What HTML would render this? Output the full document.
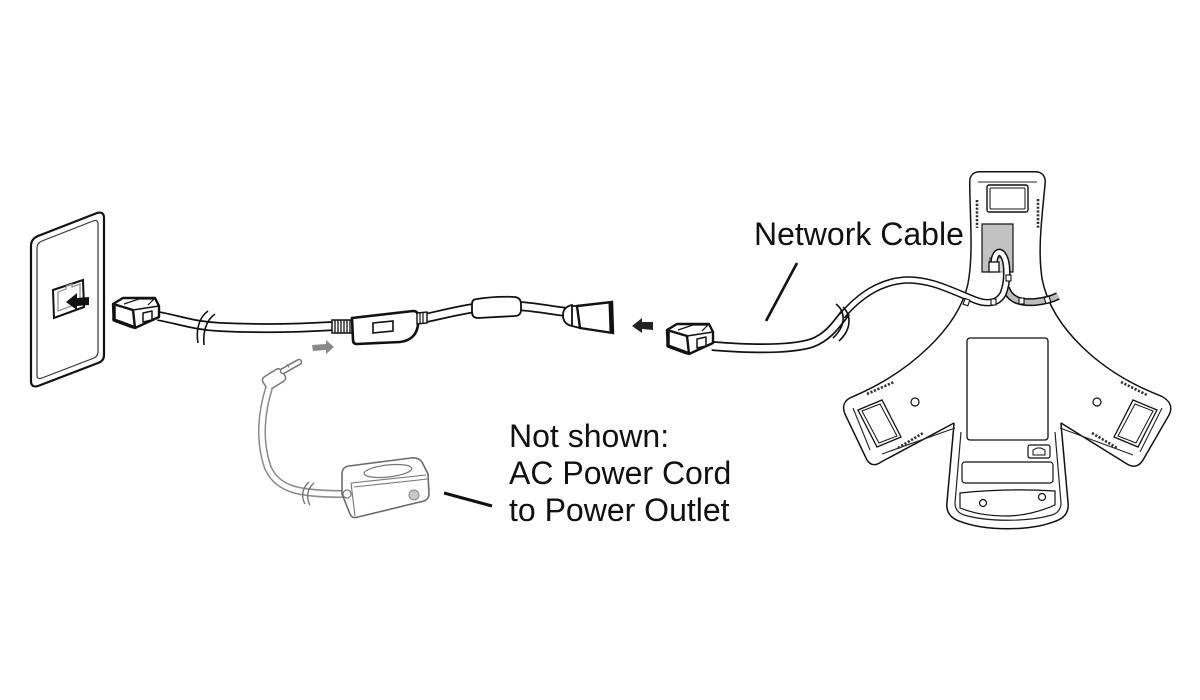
<!DOCTYPE html>
<html><head><meta charset="utf-8"><style>
html,body{margin:0;padding:0;background:#fff;}
svg{display:block;}
text{font-family:"Liberation Sans",Arial,sans-serif;fill:#111;}
</style></head><body>
<svg width="1200" height="700" viewBox="0 0 1200 700" xmlns="http://www.w3.org/2000/svg">
<rect width="1200" height="700" fill="#fff"/>

<!-- Wall plate -->
<path d="M31,246 Q31,239 38,236 L97,213 Q104,211 104,218 L104,355 Q104,361 98,363 L38,386 Q31,388 31,381 Z" fill="#fff" stroke="#111" stroke-width="2.2"/>
<path d="M37,248 Q37,243 42,241 L93,221 Q98,219 98,224 L98,352 Q98,356 94,358 L42,378 Q37,380 37,375 Z" fill="none" stroke="#333" stroke-width="1.2"/>
<!-- jack -->
<path d="M53,290 L83,280 L84,307 L54,318 Z" fill="#fff" stroke="#111" stroke-width="2"/>
<path d="M58,292 L66,289 L66,286 L72,284 L72,287 L80,284 L80,303 L58,311 Z" fill="none" stroke="#888" stroke-width="1.2"/>
<path d="M89,297 L77,298 L77,293 L66,302 L77,310 L77,306 L89,305 Z" fill="#111"/>

<!-- main left cable -->
<g fill="none" stroke-linecap="butt">
<path d="M158,316 C180,320 195,326 220,327 C260,329 300,328 334,326" stroke="#111" stroke-width="10"/>
<path d="M158,316 C180,320 195,326 220,327 C260,329 300,328 334,326" stroke="#fff" stroke-width="6.5"/>
<path d="M426,318 C440,315 455,311 474,308" stroke="#111" stroke-width="10"/>
<path d="M426,318 C440,315 455,311 474,308" stroke="#fff" stroke-width="6.5"/>
<path d="M519,306 C535,307 550,310 566,312" stroke="#111" stroke-width="10"/>
<path d="M519,306 C535,307 550,310 566,312" stroke="#fff" stroke-width="6.5"/>
</g>
<!-- break symbol left -->
<path d="M208,311 C198,318 196,332 198,343" fill="none" stroke="#111" stroke-width="1.6"/>
<path d="M215,314 C205,321 203,334 204,345" fill="none" stroke="#111" stroke-width="1.6"/>

<!-- left RJ45 plug -->
<g transform="translate(112,296)" fill="none" stroke="#111" stroke-linejoin="round">
<path d="M1,8 L11,2 L43,2 L47,10 L47,21 L23,32 L2,24 Z" fill="#fff" stroke-width="2.4"/>
<path d="M1,8 L21,14 L23,32" stroke-width="2.4"/>
<path d="M2,10 L2,24 L21,31" stroke-width="3.5"/>
<path d="M21,14 L47,10" stroke-width="1.4"/>
<path d="M12,8 L27,3 L42,3 L36,9" stroke-width="1.2"/>
<path d="M31,17 L40,15 L40,24 L31,26 Z" stroke-width="1.5"/>
</g>

<!-- ribs left -->
<rect x="332" y="320" width="20" height="13" fill="#fff" stroke="#111" stroke-width="1.5"/>
<path d="M335,320 V333 M338,320 V333 M341,320 V333 M344,320 V333 M347,320 V333 M350,320 V333" stroke="#111" stroke-width="1.3"/>
<!-- inline box -->
<path d="M352,318 L413,311 Q418,311 418,316 L418,325 Q416,340 400,342 L357,344 Q353,344 353,340 Z" fill="#fff" stroke="#111" stroke-width="2.6"/>
<path d="M373,323 L393,321 L393,331 L373,333 Z" fill="none" stroke="#111" stroke-width="1.6"/>
<!-- ribs right -->
<path d="M417,313 L427,312 L427,323 L417,324 Z" fill="#fff" stroke="#111" stroke-width="1.4"/>
<path d="M420,313 V324 M423,313 V323" stroke="#111" stroke-width="1.2"/>
<!-- ferrite -->
<path d="M477,299 Q496,296 515,297 Q521,298 521,304 L521,311 Q520,316 515,316 Q495,317 478,318 Q472,318 472,312 L472,304 Q472,299 477,299 Z" fill="#fff" stroke="#111" stroke-width="1.8"/>
<!-- coupler -->
<path d="M572,305 Q563,307 563,315 Q563,324 572,326 Z" fill="#fff" stroke="#111" stroke-width="1.8"/>
<path d="M577,306 L612,302 L613,333 L580,328 Z" fill="#fff" stroke="#111" stroke-width="2.4"/>
<path d="M572,306 L577,306 M572,326 L580,328" stroke="#111" stroke-width="1.8"/>
<path d="M610,303 L611,332" stroke="#111" stroke-width="3"/>

<!-- black arrow -->
<path d="M653,322 L642,322 L642,318 L632,326 L642,333 L642,329 L653,330 Z" fill="#222"/>

<!-- right cable -->
<g fill="none">
<path d="M712,346 C750,349 790,350 812,343 C828,337 836,325 846,312" stroke="#111" stroke-width="10"/>
<path d="M712,346 C750,349 790,350 812,343 C828,337 836,325 846,312" stroke="#fff" stroke-width="6.5"/>
</g>
<!-- right RJ45 plug -->
<g transform="translate(666,322)" fill="none" stroke="#111" stroke-linejoin="round">
<path d="M1,8 L11,2 L43,2 L47,10 L47,21 L23,32 L2,24 Z" fill="#fff" stroke-width="2.4"/>
<path d="M1,8 L21,14 L23,32" stroke-width="2.4"/>
<path d="M2,10 L2,24 L21,31" stroke-width="3.5"/>
<path d="M21,14 L47,10" stroke-width="1.4"/>
<path d="M12,8 L27,3 L42,3 L36,9" stroke-width="1.2"/>
<path d="M31,17 L40,15 L40,24 L31,26 Z" stroke-width="1.5"/>
</g>

<!-- Network Cable label -->
<text x="754" y="245" font-size="32">Network Cable</text>
<line x1="797" y1="263" x2="766" y2="321" stroke="#111" stroke-width="2.6"/>

<!-- Phone -->
<g>
<path d="M972,182 Q972,174 980,174 L1035,174 Q1043,174 1043,182 C1040,215 1035,250 1040,280 C1050,330 1100,375 1160,398 Q1172,404 1167,414 L1141,459 Q1136,467 1128,462 L1062,421 Q1058,420 1059,427 L1066,505 Q1066,515 1055,519 C1030,529 985,529 960,519 Q949,515 949,505 L956,427 Q957,420 953,421 L880,460 Q872,466 868,457 L847,413 Q843,403 853,399 C910,375 960,330 970,285 C976,255 972,215 972,182 Z" fill="#fff" stroke="#111" stroke-width="6"/>
<path d="M972,182 Q972,174 980,174 L1035,174 Q1043,174 1043,182 C1040,215 1035,250 1040,280 C1050,330 1100,375 1160,398 Q1172,404 1167,414 L1141,459 Q1136,467 1128,462 L1062,421 Q1058,420 1059,427 L1066,505 Q1066,515 1055,519 C1030,529 985,529 960,519 Q949,515 949,505 L956,427 Q957,420 953,421 L880,460 Q872,466 868,457 L847,413 Q843,403 853,399 C910,375 960,330 970,285 C976,255 972,215 972,182 Z" fill="#fff" stroke="#fff" stroke-width="3"/>
<!-- inner third line on bottom section / arms -->
<path d="M961,432 L955,503 Q955,512 964,515 C988,522 1028,522 1052,515 Q1061,512 1061,503 L1055,432" fill="none" stroke="#222" stroke-width="1.2"/>
<path d="M955,428 L882,454 M1060,428 L1133,455" fill="none" stroke="#222" stroke-width="1.1"/>
<path d="M853,408 L870,450 M1162,408 L1140,452" fill="none" stroke="#222" stroke-width="1.1"/>
<path d="M978,182 L1037,182" stroke="#222" stroke-width="1"/>

<!-- top rect -->
<rect x="987" y="185" width="41" height="27" rx="2" fill="#fff" stroke="#111" stroke-width="1.4"/>
<rect x="990" y="188" width="35" height="21" rx="1" fill="none" stroke="#111" stroke-width="1"/>
<!-- dot columns -->
<g stroke="#333" stroke-width="2.6" stroke-dasharray="2.2,1.6" fill="none">
<path d="M977,200 L977,228"/>
<path d="M1038,199 L1038,228"/>
<path d="M867,394 L894,382"/>
<path d="M898,448 L923,433"/>
<path d="M1121,382 L1147,395"/>
<path d="M1092,433 L1117,448"/>
</g>
<!-- gray channel area -->
<path d="M982,224 L1013,224 L1013,272 L1005,272 L1005,258 L990,258 L990,272 L982,272 Z" fill="#c2c2c2" stroke="#111" stroke-width="1.2"/>
<path d="M990,258 L1005,258 L1005,272 L990,272 Z" fill="#d8d8d8" stroke="#555" stroke-width="0.8"/>
<!-- center rects -->
<rect x="967" y="338" width="81" height="102" rx="3" fill="#fff" stroke="#111" stroke-width="1.3"/>
<rect x="1028" y="445" width="22" height="13" rx="2" fill="#fff" stroke="#111" stroke-width="1.2"/>
<path d="M1033,455 L1033,450 L1037,448 L1041,448 L1045,450 L1045,455 Z" fill="none" stroke="#111" stroke-width="1"/>
<rect x="962" y="462" width="91" height="21" rx="3" fill="#fff" stroke="#111" stroke-width="1.2"/>
<path d="M960,493 Q1007,488 1055,491 L1055,505 Q1030,516 1005,516 Q980,516 960,508 Z" fill="#fff" stroke="#111" stroke-width="1.2"/>
<circle cx="983" cy="503" r="3.5" fill="#fff" stroke="#111" stroke-width="1.2"/>
<circle cx="1042" cy="497" r="3.5" fill="#fff" stroke="#111" stroke-width="1.2"/>
<circle cx="915" cy="402" r="4" fill="#fff" stroke="#111" stroke-width="1.2"/>
<circle cx="1097" cy="402" r="4" fill="#fff" stroke="#111" stroke-width="1.2"/>
<!-- arm rects -->
<path d="M858,410 L882,400 L901,437 L877,447 Z" fill="#fff" stroke="#111" stroke-width="1.3"/>
<path d="M862,411 L880,404 L897,436 L879,443 Z" fill="none" stroke="#111" stroke-width="1"/>
<path d="M1133,400 L1157,410 L1138,447 L1114,437 Z" fill="#fff" stroke="#111" stroke-width="1.3"/>
<path d="M1135,404 L1153,411 L1136,443 L1118,436 Z" fill="none" stroke="#111" stroke-width="1"/>
</g>

<!-- gray internal channel to right -->
<path d="M1006,288 C1010,300 1020,303 1035,302 C1045,301 1052,299 1058,296" fill="none" stroke="#111" stroke-width="8"/>
<path d="M1006,288 C1010,300 1020,303 1035,302 C1045,301 1052,299 1058,296" fill="none" stroke="#bdbdbd" stroke-width="5"/>
<!-- thin cable into phone -->
<g fill="none">
<path d="M842,316 C860,295 880,282 905,280 C930,279 950,290 975,300 C988,305 998,303 1003,294 C1008,282 1008,262 1003,255 C999,249 994,254 994,264" stroke="#111" stroke-width="7.5"/>
<path d="M842,316 C860,295 880,282 905,280 C930,279 950,290 975,300 C988,305 998,303 1003,294 C1008,282 1008,262 1003,255 C999,249 994,254 994,264" stroke="#fff" stroke-width="4.5"/>
</g>
<rect x="989" y="262" width="10" height="10" fill="#fff" stroke="#111" stroke-width="1.3"/>
<!-- clips -->
<g fill="#fff" stroke="#111" stroke-width="1.1">
<rect x="964" y="299" width="5" height="6" transform="rotate(20 966 302)"/>
<rect x="991" y="299" width="5" height="6"/>
<rect x="1006" y="275" width="5" height="6"/>
<rect x="1019" y="298" width="5" height="6"/>
<rect x="1045" y="297" width="5" height="6" transform="rotate(-15 1047 300)"/>
</g>
<!-- right break -->
<path d="M836,304 C846,312 846,326 833,338" fill="none" stroke="#111" stroke-width="1.6"/>
<path d="M843,307 C852,316 851,330 839,341" fill="none" stroke="#111" stroke-width="1.6"/>

<!-- Power adapter (gray) -->
<path d="M312,345 L326,344 L326,340 L334,347 L326,354 L326,350 L313,351 Z" fill="#8a8a8a"/>
<g transform="rotate(-32 274 379)">
<rect x="263" y="372" width="22" height="14" rx="4" fill="#fff" stroke="#777" stroke-width="1.5"/>
</g>
<path d="M283,371 L299,362" stroke="#777" stroke-width="6.5" stroke-linecap="round"/>
<path d="M283,371 L299,362" stroke="#fff" stroke-width="3.5" stroke-linecap="round"/>
<path d="M289,367.5 L287,364" stroke="#777" stroke-width="1"/>
<g fill="none">
<path d="M269,388 C262,410 258,440 268,468 C278,490 300,494 343,494" stroke="#8a8a8a" stroke-width="8"/>
<path d="M269,388 C262,410 258,440 268,468 C278,490 300,494 343,494" stroke="#fff" stroke-width="5"/>
</g>
<path d="M309,482 C302,488 301,497 305,504" fill="none" stroke="#777" stroke-width="1.4"/>
<path d="M314,483 C307,489 306,498 310,505" fill="none" stroke="#777" stroke-width="1.4"/>
<path d="M349,466 L411,458 Q418,457 422,462 L428,474 L429,494 Q429,499 424,501 L358,517 Q352,519 350,514 L342,494 L342,474 Q342,467 349,466 Z" fill="#fff" stroke="#6a6a6a" stroke-width="1.6"/>
<path d="M351,483 L426,475 M354,487 L428,479" stroke="#777" stroke-width="1.1" fill="none"/>
<path d="M351,483 L355,516" stroke="#777" stroke-width="1.1"/>
<ellipse cx="388" cy="471" rx="24" ry="6" transform="rotate(-6 388 471)" fill="#fff" stroke="#777" stroke-width="1.2"/>
<circle cx="347" cy="494" r="4" fill="#fff" stroke="#777" stroke-width="1.3"/>
<circle cx="414" cy="495" r="5" fill="#c8c8c8" stroke="#888" stroke-width="1"/>

<!-- Power label -->
<line x1="444" y1="493" x2="492" y2="506" stroke="#111" stroke-width="3"/>
<text x="509" y="447" font-size="32">Not shown:</text>
<text x="509" y="484" font-size="32">AC Power Cord</text>
<text x="509" y="521" font-size="32">to Power Outlet</text>
</svg>
</body></html>
